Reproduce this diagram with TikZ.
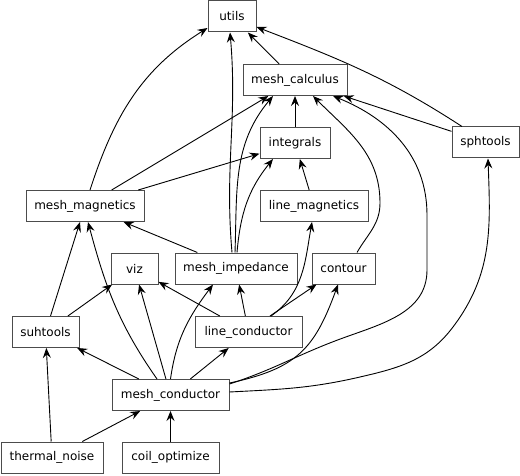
\documentclass[tikz,border=0pt]{standalone}
\usepackage{fontspec}
\setmainfont{DejaVu Sans}
\usetikzlibrary{arrows.meta,calc}
\begin{document}
\begin{tikzpicture}[x=1pt,y=1pt,
  mod/.style={draw=black!70,line width=1pt,rectangle,inner sep=0pt,minimum height=31pt,
    font=\fontsize{12}{14}\selectfont,text=black},
  dep/.style={draw=black,line width=0.9pt,-{Stealth[length=10pt,width=8pt,inset=3.5pt]}}]
\useasboundingbox (0,0) rectangle (520,475);
\fill[white] (0,0) rectangle (520,475);
% nodes
\node[mod,minimum width=48pt]  (ut)    at (232,458.5) {utils};
\node[mod,minimum width=104pt] (mcal)  at (295,395)   {mesh\_calculus};
\node[mod,minimum width=70pt]  (integ) at (295,332)   {integrals};
\node[mod,minimum width=108pt] (lmag)  at (314,269)   {line\_magnetics};
\node[mod,minimum width=67pt]  (sph)   at (485.5,332.5) {sphtools};
\node[mod,minimum width=118pt] (mmag)  at (85,269)    {mesh\_magnetics};
\node[mod,minimum width=47pt]  (viz)   at (134.5,206.5) {viz};
\node[mod,minimum width=122pt] (mimp)  at (236,206.5) {mesh\_impedance};
\node[mod,minimum width=63pt]  (cont)  at (343.5,206.5) {contour};
\node[mod,minimum width=67pt]  (suh)   at (45.5,143)  {suhtools};
\node[mod,minimum width=107pt] (lcond) at (248.5,143) {line\_conductor};
\node[mod,minimum width=117pt] (mcond) at (170.5,80)  {mesh\_conductor};
\node[mod,minimum width=102pt] (tn)    at (52,17.5)   {thermal\_noise};
\node[mod,minimum width=97pt]  (co)    at (170.5,17.5) {coil\_optimize};
% waypoints
\coordinate (w1) at (380,272);
\coordinate (w2) at (343,137);
\coordinate (w3) at (427,205);
\coordinate (w4) at (427,260);
\coordinate (w5) at (360,98);
\coordinate (w6) at (453,148);
% straight edges
\draw[dep] (mmag) -- (mcal);
\draw[dep] (mmag) -- (integ);
\draw[dep] (mimp) -- (mmag);
\draw[dep] (lmag) -- (integ);
\draw[dep] (integ) -- (mcal);
\draw[dep] (mcal) -- (ut);
\draw[dep] (sph) -- (mcal);
\draw[dep] (lcond) -- (mimp);
\draw[dep] (lcond) -- (viz);
\draw[dep] (mcond) -- (lcond);
\draw[dep] (mcond) -- (viz);
\draw[dep] (mcond) -- (suh);
\draw[dep] (suh) -- (viz);
\draw[dep] (suh) -- (mmag);
\draw[dep] (tn) -- (suh);
\draw[dep] (tn) -- (mcond);
\draw[dep] (co) -- (mcond);
\draw[dep] ($(lcond.north)+(21.5,0)$) -- ($(cont.south)+(-27,0)$);
% curved edges
\draw[dep] ($(mmag.north)+(5,0)$) to[out=72,in=212] ($(ut.west)+(0,-11.5)$);
\draw[dep] ($(mimp.north)+(-4,0)$) to[out=95,in=-85] ($(ut.south)+(-2,0)$);
\draw[dep] ($(mimp.north)+(-1,0)$) to[out=88,in=230] ($(mcal.south)+(-22,0)$);
\draw[dep] ($(mimp.north)+(1,0)$) to[out=85,in=231] ($(integ.south)+(-22,0)$);
\draw[dep] ($(sph.north)+(-23.5,0)$) to[out=147,in=-21] ($(ut.east)+(0,-10.5)$);
\draw[dep] ($(cont.north)+(13.5,0)$) to[out=60,in=-90] (w1) to[out=90,in=-45] ($(mcal.south)+(18,0)$);
\draw[dep] ($(mcond.east)+(0,11)$) to[out=18,in=200] (w2) to[out=20,in=-90] (w3) -- (w4) to[out=90,in=-22] ($(mcal.south)+(38,0)$);
\draw[dep] ($(mcond.east)+(0,3)$) to[out=3,in=193] (w5) to[out=13,in=233] (w6) to[out=53,in=-88] ($(sph.south)+(2.5,0)$);
\draw[dep] ($(mcond.east)+(0,12)$) to[out=12,in=250,looseness=1.2] ($(cont.south)+(-5.5,0)$);
\draw[dep] ($(lcond.north)+(22.5,0)$) to[out=35,in=260] ($(lmag.south)+(-2,0)$);
\draw[dep] ($(mcond.north)+(0,0)$) to[out=82,in=233] ($(mimp.south)+(-23,0)$);
\draw[dep] ($(mcond.north)+(-13.5,0)$) to[out=125,in=-75] ($(mmag.south)+(3,0)$);
\end{tikzpicture}
\end{document}
